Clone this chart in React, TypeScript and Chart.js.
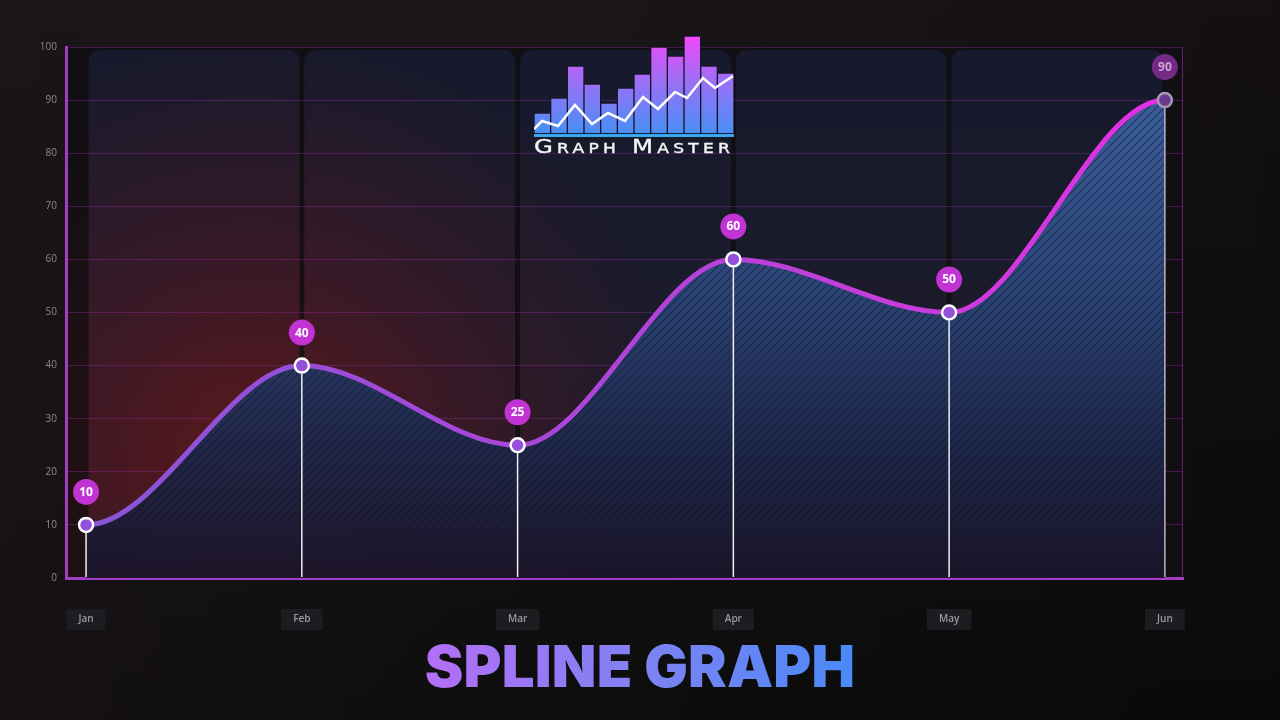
import React, { useEffect, useRef } from "react";
import { Chart, registerables } from "chart.js";

Chart.register(...registerables);

// ---- main chart data ----
const months = ["Jan", "Feb", "Mar", "Apr", "May", "Jun"];
const values = [10, 40, 25, 60, 50, 90];
const yMin = 0;
const yMax = 100;
const yStep = 10;

// ---- logo mini-chart data ----
const logoBarLabels = ["1", "2", "3", "4", "5", "6", "7", "8", "9", "10", "11", "12"];
const logoBars = [20, 35, 67, 49, 30, 45, 59, 86, 77, 97, 67, 60];
const logoLineX = [0, 0.48, 1.44, 2.46, 3.48, 4.44, 5.46, 6.54, 7.44, 8.46, 9.18, 10.14, 10.86, 11.94];
const logoLineY = [4, 12, 7, 28, 9, 20, 12, 36, 24, 41, 35, 55, 45, 57];

const FONT = '"Open Sans", "DejaVu Sans", sans-serif';

function makeHatch(): CanvasPattern | string {
  const c = document.createElement("canvas");
  c.width = 8;
  c.height = 8;
  const g = c.getContext("2d");
  if (!g) return "rgba(0,0,0,0)";
  g.strokeStyle = "rgba(12,22,60,0.55)";
  g.lineWidth = 1.1;
  g.beginPath();
  g.moveTo(-1, 9);
  g.lineTo(9, -1);
  g.moveTo(-1, 1);
  g.lineTo(1, -1);
  g.moveTo(7, 9);
  g.lineTo(9, 7);
  g.stroke();
  const p = g.createPattern(c, "repeat");
  return p || "rgba(0,0,0,0)";
}

function roundRect(ctx: CanvasRenderingContext2D, x: number, y: number, w: number, h: number, r: number) {
  ctx.beginPath();
  ctx.moveTo(x + r, y);
  ctx.lineTo(x + w - r, y);
  ctx.quadraticCurveTo(x + w, y, x + w, y + r);
  ctx.lineTo(x + w, y + h);
  ctx.lineTo(x, y + h);
  ctx.lineTo(x, y + r);
  ctx.quadraticCurveTo(x, y, x + r, y);
  ctx.closePath();
}

const backgroundPlugin = {
  id: "panelsBg",
  beforeDraw(chart: any) {
    const { ctx, chartArea: a, scales } = chart;
    if (!a) return;
    const xs = scales.x;
    ctx.save();
    ctx.fillStyle = "#110f13";
    ctx.fillRect(a.left, a.top, a.right - a.left, a.bottom - a.top);
    let rg = ctx.createRadialGradient(200, 480, 0, 200, 480, 360);
    rg.addColorStop(0, "rgba(110,20,18,0.25)");
    rg.addColorStop(1, "rgba(110,20,18,0)");
    ctx.fillStyle = rg;
    ctx.fillRect(a.left, a.top, a.right - a.left, a.bottom - a.top);
    const n = months.length;
    const vg = ctx.createLinearGradient(0, a.top, 0, a.bottom);
    vg.addColorStop(0, "#161a2c");
    vg.addColorStop(0.6, "#1c1b2b");
    vg.addColorStop(1, "#1c1827");
    for (let i = 0; i < n - 1; i++) {
      const x0 = xs.getPixelForValue(i) + 2.5;
      const x1 = xs.getPixelForValue(i + 1) - 2.5;
      roundRect(ctx, x0, a.top + 3, x1 - x0, a.bottom - a.top - 3, 13);
      ctx.fillStyle = vg;
      ctx.fill();
      rg = ctx.createRadialGradient(250, 470, 0, 250, 470, 440);
      rg.addColorStop(0, "rgba(135,22,16,0.62)");
      rg.addColorStop(0.5, "rgba(120,22,30,0.3)");
      rg.addColorStop(1, "rgba(110,22,30,0)");
      ctx.fillStyle = rg;
      ctx.fill();
    }
    ctx.restore();
  },
};

const horizontalEnds = {
  id: "horizontalEnds",
  beforeDraw(chart: any) {
    chart.data.datasets.forEach((_: any, i: number) => {
      const meta = chart.getDatasetMeta(i);
      const line = meta.dataset;
      const pts = meta.data as any[];
      if (!line || pts.length < 2) return;
      line.updateControlPoints(chart.chartArea, "x");
      const a = pts[0];
      const b = pts[1];
      a.cp2x = a.x + (b.x - a.x) / 3;
      a.cp2y = a.y;
      const z = pts[pts.length - 1];
      const y = pts[pts.length - 2];
      z.cp1x = z.x - (z.x - y.x) / 3;
      z.cp1y = z.y;
    });
  },
};

const decorPlugin = {
  id: "decor",
  afterDatasetsDraw(chart: any) {
    const { ctx, chartArea: a } = chart;
    const meta = chart.getDatasetMeta(2);
    const pts = meta.data as any[];
    ctx.save();
    ctx.strokeStyle = "rgba(150,50,160,0.6)";
    ctx.lineWidth = 1;
    ctx.beginPath();
    ctx.moveTo(a.right - 0.5, a.top);
    ctx.lineTo(a.right - 0.5, a.bottom);
    ctx.stroke();
    pts.forEach((p: any, i: number) => {
      const last = i === pts.length - 1;
      ctx.strokeStyle = last ? "#bdb4c4" : "#f0f0f0";
      ctx.lineWidth = 1.5;
      ctx.beginPath();
      ctx.moveTo(p.x, p.y + 8);
      ctx.lineTo(p.x, a.bottom - 1);
      ctx.stroke();
      const by = p.y - 33;
      ctx.beginPath();
      ctx.arc(p.x, by, 13, 0, Math.PI * 2);
      ctx.fillStyle = last ? "#742a86" : "#c233d3";
      ctx.fill();
      ctx.fillStyle = last ? "#c9a7cf" : "#ffffff";
      ctx.font = "bold 12px " + FONT;
      ctx.textAlign = "center";
      ctx.textBaseline = "middle";
      ctx.fillText(String(values[i]), p.x, by + 0.5);
    });
    ctx.restore();
  },
};

function MainChart() {
  const ref = useRef<HTMLCanvasElement | null>(null);
  useEffect(() => {
    if (!ref.current) return;
    const hatch = makeHatch();
    const pts = values.map((v, i) => ({ x: i, y: v }));
    const lastIdx = values.length - 1;
    const chart = new Chart(ref.current, {
      type: "line",
      data: {
        datasets: [
          {
            data: pts,
            order: 2,
            borderWidth: 0,
            pointRadius: 0,
            cubicInterpolationMode: "monotone",
            fill: "origin",
            backgroundColor: (c: any) => {
              const area = c.chart.chartArea;
              if (!area) return "#2c4678";
              const g = c.chart.ctx.createLinearGradient(0, area.top, 0, area.bottom);
              g.addColorStop(0, "rgba(66,106,170,0.95)");
              g.addColorStop(0.45, "rgba(45,72,122,0.93)");
              g.addColorStop(0.75, "rgba(30,40,74,0.93)");
              g.addColorStop(1, "rgba(28,20,38,0.93)");
              return g;
            },
          },
          {
            data: pts,
            order: 1,
            borderWidth: 0,
            pointRadius: 0,
            cubicInterpolationMode: "monotone",
            fill: "origin",
            backgroundColor: hatch as any,
          },
          {
            data: pts,
            order: 0,
            fill: false,
            cubicInterpolationMode: "monotone",
            borderWidth: 5,
            borderColor: (c: any) => {
              const area = c.chart.chartArea;
              if (!area) return "#a845d8";
              const g = c.chart.ctx.createLinearGradient(area.left + 20, 0, area.right - 18, 0);
              g.addColorStop(0, "#8756d6");
              g.addColorStop(0.4, "#a846d8");
              g.addColorStop(0.75, "#c63ddb");
              g.addColorStop(1, "#e62ee6");
              return g;
            },
            pointRadius: 7,
            pointBorderWidth: 2.5,
            pointBorderColor: (c: any) => (c.dataIndex === lastIdx ? "#a898b0" : "#ffffff"),
            pointBackgroundColor: (c: any) => (c.dataIndex === lastIdx ? "#6a3a8c" : "#9450d8"),
          },
        ],
      },
      options: {
        animation: false,
        responsive: false,
        events: [],
        layout: { padding: { top: 47, right: 97, left: 0, bottom: 0 } },
        plugins: {
          legend: { display: false },
          tooltip: { enabled: false },
        },
        scales: {
          x: {
            type: "linear",
            min: -0.093,
            max: 5.084,
            afterFit: (s: any) => {
              s.height = 142;
            },
            afterBuildTicks: (s: any) => {
              s.ticks = months.map((_, i) => ({ value: i }));
            },
            grid: { display: false, drawTicks: false },
            border: { display: true, color: "#a53cc6", width: 3 },
            ticks: {
              includeBounds: false,
              stepSize: 1,
              autoSkip: false,
              maxRotation: 0,
              padding: 35,
              color: "#9a9aa0",
              font: { family: FONT, size: 10, weight: "600" },
              callback: (v: any) => months[Math.round(Number(v))] ?? "",
              showLabelBackdrop: true,
              backdropColor: "#1c1c21",
              backdropPadding: { top: 4, bottom: 5, left: 12, right: 12 },
            } as any,
          },
          y: {
            min: yMin,
            max: yMax,
            afterFit: (s: any) => {
              s.width = 66;
            },
            grid: { color: "rgba(150,40,165,0.38)", lineWidth: 1, drawTicks: false },
            border: { display: true, color: "#a53cc6", width: 3 },
            ticks: {
              stepSize: yStep,
              padding: 9,
              color: "#8a8a8e",
              font: { family: FONT, size: 10 },
            },
          },
        },
      } as any,
      plugins: [backgroundPlugin, horizontalEnds, decorPlugin],
    });
    return () => chart.destroy();
  }, []);
  return (
    <canvas
      ref={ref}
      width={1280}
      height={720}
      style={{ position: "absolute", left: 0, top: 0, width: 1280, height: 720 }}
    />
  );
}

const logoCanvasStyle: React.CSSProperties = {
  position: "absolute",
  left: 534,
  top: 30,
  width: 200,
  height: 103,
};

function LogoBars() {
  const ref = useRef<HTMLCanvasElement | null>(null);
  useEffect(() => {
    if (!ref.current) return;
    const chart = new Chart(ref.current, {
      type: "bar",
      data: {
        labels: logoBarLabels,
        datasets: [
          {
            data: logoBars,
            barPercentage: 1,
            categoryPercentage: 1,
            borderColor: "rgba(28,20,48,0.9)",
            borderWidth: 1,
            backgroundColor: (c: any) => {
              const area = c.chart.chartArea;
              if (!area) return "#7a7af8";
              const g = c.chart.ctx.createLinearGradient(0, area.bottom, 0, area.top);
              g.addColorStop(0, "#4790f6");
              g.addColorStop(0.5, "#9b6ff6");
              g.addColorStop(1, "#ff44fb");
              return g;
            },
          },
        ],
      },
      options: {
        animation: false,
        responsive: false,
        events: [],
        layout: { padding: 0 },
        plugins: { legend: { display: false }, tooltip: { enabled: false } },
        scales: {
          x: { display: false },
          y: { display: false, min: 0, max: 103 },
        },
      } as any,
    });
    return () => chart.destroy();
  }, []);
  return <canvas ref={ref} width={200} height={103} style={logoCanvasStyle} />;
}

function LogoLine() {
  const ref = useRef<HTMLCanvasElement | null>(null);
  useEffect(() => {
    if (!ref.current) return;
    const chart = new Chart(ref.current, {
      type: "line",
      data: {
        datasets: [
          {
            data: logoLineX.map((x, i) => ({ x, y: logoLineY[i] })),
            borderColor: "#ffffff",
            borderWidth: 2.5,
            pointRadius: 0,
            tension: 0,
            fill: false,
          },
        ],
      },
      options: {
        animation: false,
        responsive: false,
        events: [],
        layout: { padding: 0 },
        plugins: { legend: { display: false }, tooltip: { enabled: false } },
        scales: {
          x: { type: "linear", display: false, min: 0, max: 12 },
          y: { display: false, min: 0, max: 103 },
        },
      } as any,
    });
    return () => chart.destroy();
  }, []);
  return <canvas ref={ref} width={200} height={103} style={logoCanvasStyle} />;
}

function LogoText() {
  const ref = useRef<HTMLSpanElement | null>(null);
  useEffect(() => {
    const el = ref.current;
    if (!el) return;
    const w = el.getBoundingClientRect().width;
    if (w > 0) el.style.transform = `scaleX(${200 / w})`;
  }, []);
  return (
    <div
      style={{
        position: "absolute",
        left: 534,
        top: 135,
        width: 200,
        height: 22,
      }}
    >
      <span
        ref={ref}
        style={{
          display: "inline-block",
          transformOrigin: "0 0",
          color: "#f4f4f6",
          fontFamily: '"DejaVu Sans", sans-serif',
          fontVariant: "small-caps",
          fontWeight: 400,
          fontSize: 20,
          letterSpacing: 3.5,
          lineHeight: "22px",
          whiteSpace: "nowrap",
          WebkitTextStroke: "0.4px #f4f4f6",
        }}
      >
        Graph Master
      </span>
    </div>
  );
}

export default function App() {
  return (
    <div
      style={{
        position: "fixed",
        left: 0,
        top: 0,
        width: 1280,
        height: 720,
        overflow: "hidden",
        background:
          "linear-gradient(90deg, rgba(28,20,26,0.55) 0%, rgba(0,0,0,0) 45%, rgba(0,0,0,0.25) 100%), linear-gradient(180deg, #1a1519 0%, #151215 40%, #101010 75%, #0d0d0d 100%)",
      }}
    >
      <MainChart />
      <LogoBars />
      <LogoLine />
      <div
        style={{
          position: "absolute",
          left: 534,
          top: 134,
          width: 200,
          height: 3,
          background: "#3aa8ee",
        }}
      />
      <LogoText />
      <div
        style={{
          position: "absolute",
          left: 0,
          top: 637,
          width: 1280,
          textAlign: "center",
        }}
      >
        <span
          style={{
            display: "inline-block",
            fontFamily: "Inter, sans-serif",
            fontWeight: 900,
            fontSize: 58,
            lineHeight: 1,
            letterSpacing: 0.2,
            background: "linear-gradient(90deg, #b46ef7 0%, #7f82f2 50%, #4a8af8 100%)",
            WebkitBackgroundClip: "text",
            backgroundClip: "text",
            color: "transparent",
            WebkitTextFillColor: "transparent",
          }}
        >
          SPLINE GRAPH
        </span>
      </div>
    </div>
  );
}
